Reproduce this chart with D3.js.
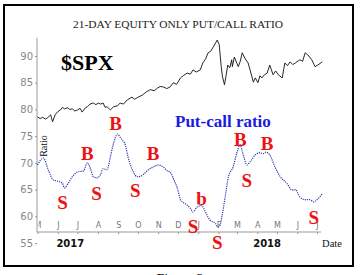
<!DOCTYPE html>
<html><head><meta charset="utf-8">
<script src="https://cdn.jsdelivr.net/npm/d3@7"></script>
<style>body{margin:0;background:#fff}svg{display:block}</style>
</head><body>
<script>
const yTicks = [55,60,65,70,75,80,85,90];
const monthLabels = ["M","J","J","A","S","O","N","D","J","F","M","A","M","J","J"];
const yearLabels = [["2017","2017-06-20"],["2018","2018-04-16"]];

const pcDates = ["2017-05-01","2017-05-10","2017-05-18","2017-05-25","2017-05-31","2017-06-08","2017-06-11","2017-06-17","2017-06-23","2017-07-01","2017-07-10","2017-07-16","2017-07-21","2017-07-25","2017-07-31","2017-08-05","2017-08-09","2017-08-15","2017-08-20","2017-08-25","2017-08-31","2017-09-04","2017-09-07","2017-09-12","2017-09-16","2017-09-24","2017-09-30","2017-10-05","2017-10-09","2017-10-17","2017-10-24","2017-11-01","2017-11-09","2017-11-15","2017-11-19","2017-11-25","2017-11-30","2017-12-05","2017-12-09","2017-12-15","2017-12-20","2017-12-24","2017-12-30","2018-01-06","2018-01-12","2018-01-16","2018-01-19","2018-01-27","2018-01-31","2018-02-03","2018-02-06","2018-02-11","2018-02-16","2018-02-23","2018-03-01","2018-03-06","2018-03-09","2018-03-12","2018-03-16","2018-03-21","2018-03-29","2018-04-05","2018-04-10","2018-04-14","2018-04-20","2018-04-28","2018-05-06","2018-05-16","2018-05-24","2018-05-29","2018-06-05","2018-06-13","2018-06-20","2018-06-26","2018-07-01","2018-07-09"];
const pcValues = [69.6,70.9,68.5,66.8,66.6,66.2,65.3,66.2,67.4,68.3,68.5,70.0,68.8,67.4,67.2,67.8,68.9,68.7,71.1,73.7,75.4,74.8,74.3,73.3,71.1,68.3,67.4,67.5,67.8,68.7,69.2,69.6,69.2,68.5,68.3,66.8,65.3,63.1,62.6,62.1,61.5,60.8,61.7,62.0,60.8,59.8,59.3,58.7,58.0,58.3,59.9,63.6,67.4,69.2,71.9,73.4,72.2,70.9,69.6,70.2,71.5,71.9,71.7,72.0,71.5,69.2,67.4,66.2,64.9,65.0,63.6,63.1,63.1,62.7,63.1,64.2];

const spxDates = ["2017-05-01","2017-05-05","2017-05-09","2017-05-13","2017-05-16","2017-05-21","2017-05-24","2017-05-28","2017-06-01","2017-06-05","2017-06-08","2017-06-11","2017-06-16","2017-06-19","2017-06-23","2017-06-27","2017-07-01","2017-07-05","2017-07-08","2017-07-13","2017-07-16","2017-07-20","2017-07-25","2017-07-29","2017-08-02","2017-08-05","2017-08-09","2017-08-12","2017-08-15","2017-08-20","2017-08-25","2017-08-31","2017-09-04","2017-09-09","2017-09-15","2017-09-22","2017-09-26","2017-09-30","2017-10-08","2017-10-14","2017-10-20","2017-10-26","2017-10-31","2017-11-04","2017-11-09","2017-11-14","2017-11-19","2017-11-24","2017-11-29","2017-12-05","2017-12-10","2017-12-15","2017-12-20","2017-12-24","2017-12-29","2018-01-04","2018-01-08","2018-01-12","2018-01-16","2018-01-20","2018-01-24","2018-01-30","2018-02-02","2018-02-05","2018-02-07","2018-02-10","2018-02-13","2018-02-15","2018-02-18","2018-02-21","2018-02-22","2018-02-25","2018-03-03","2018-03-06","2018-03-09","2018-03-13","2018-03-18","2018-03-21","2018-03-26","2018-03-29","2018-04-02","2018-04-05","2018-04-08","2018-04-12","2018-04-16","2018-04-20","2018-04-25","2018-04-29","2018-05-03","2018-05-09","2018-05-13","2018-05-17","2018-05-21","2018-05-25","2018-05-29","2018-06-05","2018-06-09","2018-06-13","2018-06-17","2018-06-23","2018-06-28","2018-07-02","2018-07-09"];
const spxValues = [78.6,78.3,78.5,78.2,78.4,79.0,77.7,79.0,79.6,79.9,80.4,80.1,80.3,80.0,80.1,79.7,79.9,80.2,79.5,80.3,80.5,81.0,81.2,80.9,81.2,81.0,81.2,80.4,80.5,79.9,80.5,80.7,81.2,81.0,81.8,82.3,81.9,82.2,82.7,83.3,83.7,83.5,84.0,84.3,84.2,83.9,84.2,85.0,84.7,85.9,86.4,86.8,86.6,87.4,87.0,87.4,88.7,89.4,90.6,90.9,91.7,93.0,92.1,88.0,86.1,84.6,86.8,88.3,87.8,89.3,88.0,89.8,88.0,89.0,90.6,89.6,88.7,87.4,85.1,85.9,85.0,86.3,85.9,86.5,86.8,88.3,86.5,87.2,86.5,85.9,88.7,88.2,88.9,88.4,88.7,89.3,89.0,90.6,90.2,89.3,88.0,88.3,88.9];

const signalText = ["B","B","B","S","S","S","b","S","S","B","S","B","S"];
const signalDates = ["2017-07-16","2017-08-28","2017-10-24","2017-06-08","2017-07-30","2017-09-27","2018-01-06","2017-12-24","2018-01-30","2018-03-06","2018-03-16","2018-04-16","2018-06-26"];
const signalValues = [70.5,76.2,70.5,61.4,63.1,63.6,62.1,56.9,53.9,73.2,65.5,72.4,58.6];

const W = 361, H = 275;
const parse = d3.timeParse("%Y-%m-%d");
const svg = d3.select("body").append("svg").attr("width", W).attr("height", H);

const x = d3.scaleTime().domain([parse("2017-05-01"), parse("2018-07-01")]).range([37.5, 317]);
const y = d3.scaleLinear().domain([55, 90]).range([243, 56]);
const axisY = 232;

// frame
svg.append("rect").attr("x", 4).attr("y", 5).attr("width", 349).attr("height", 261)
  .attr("fill", "none").attr("stroke", "#000").attr("stroke-width", 2);

// title
svg.append("text").attr("x", 73).attr("y", 28).attr("textLength", 210).attr("lengthAdjust", "spacingAndGlyphs")
  .attr("font-family", "Liberation Serif").attr("font-size", 10.5).attr("fill", "#222")
  .text("21-DAY EQUITY ONLY PUT/CALL RATIO");

// y axis
const gy = svg.append("g").attr("transform", "translate(37,0)")
  .call(d3.axisLeft(y).tickValues(yTicks).tickSize(2).tickPadding(2));
gy.select(".domain").remove();
gy.append("line").attr("x1", 0).attr("x2", 0).attr("y1", y(93.4)).attr("y2", axisY).attr("stroke", "#999");
gy.selectAll(".tick line").attr("stroke", "#999");
gy.selectAll(".tick text").attr("font-family", "DejaVu Sans").attr("font-size", 10).attr("fill", "#888");

// x axis
const months = d3.timeMonth.range(parse("2017-05-01"), parse("2018-07-02"));
const gx = svg.append("g").attr("transform", `translate(0,${axisY})`)
  .call(d3.axisBottom(x).tickValues(months).tickSize(2).tickFormat((d, i) => monthLabels[i]));
gx.select(".domain").attr("d", `M37,0H321`).attr("stroke", "#999");
gx.selectAll(".tick line").attr("stroke", "#999");
gx.selectAll(".tick text").attr("y", -4).attr("dy", 0)
  .attr("font-family", "DejaVu Sans").attr("font-size", 8).attr("fill", "#777");
svg.append("clipPath").attr("id", "mclip2").append("rect").attr("x", 0.5).attr("y", -20).attr("width", 20).attr("height", 30);
gx.selectAll(".tick").filter((d, i) => i === 0).select("text").attr("clip-path", "url(#mclip2)");

// year labels
svg.selectAll("text.year").data(yearLabels).join("text").attr("class", "year")
  .attr("x", d => x(parse(d[1]))).attr("y", 247).attr("text-anchor", "middle")
  .attr("font-family", "DejaVu Sans").attr("font-weight", "bold").attr("font-size", 10).attr("fill", "#111")
  .text(d => d[0]);
svg.append("text").attr("x", 332).attr("y", 247).attr("text-anchor", "middle")
  .attr("font-family", "Liberation Serif").attr("font-size", 10.5).attr("fill", "#111").text("Date");

// Ratio label
svg.append("text").attr("transform", "translate(47,146) rotate(-90)").attr("text-anchor", "middle")
  .attr("font-family", "Liberation Serif").attr("font-size", 10).attr("fill", "#111").text("Ratio");

// SPX line
const spx = spxDates.map((d, i) => ({date: parse(d), v: spxValues[i]}));
svg.append("path").datum(spx)
  .attr("d", d3.line().x(d => x(d.date)).y(d => y(d.v)))
  .attr("fill", "none").attr("stroke", "#111").attr("stroke-width", 0.9);

// put-call line
const pc = pcDates.map((d, i) => ({date: parse(d), v: pcValues[i]}));
svg.append("path").datum(pc)
  .attr("d", d3.line().x(d => x(d.date)).y(d => y(d.v)).curve(d3.curveMonotoneX))
  .attr("fill", "none").attr("stroke", "#2a3cb0").attr("stroke-width", 1.2).attr("stroke-dasharray", "1.2,1");

// $SPX label
svg.append("text").attr("x", 61).attr("y", 70).attr("font-family", "Liberation Serif").attr("font-weight", "bold")
  .attr("font-size", 22).attr("fill", "#000").text("$SPX");

// Put-call ratio label
svg.append("text").attr("x", 175).attr("y", 127).attr("font-family", "Liberation Serif").attr("font-weight", "bold")
  .attr("font-size", 17).attr("fill", "#1a1ae0").text("Put-call ratio");

// signals
svg.selectAll("text.sig").data(signalText).join("text").attr("class", "sig")
  .attr("x", (d, i) => x(parse(signalDates[i]))).attr("y", (d, i) => y(signalValues[i]))
  .attr("text-anchor", "middle").attr("font-family", "Liberation Serif").attr("font-weight", "bold")
  .attr("font-size", 19).attr("fill", "#ee1111").text(d => d);

// caption (cut off at bottom edge, as in the reference)
svg.append("text").attr("x", 180).attr("y", 284).attr("text-anchor", "middle")
  .attr("font-family", "Liberation Serif").attr("font-size", 14).attr("fill", "#111").text("Figure 3");
</script>
</body></html>
